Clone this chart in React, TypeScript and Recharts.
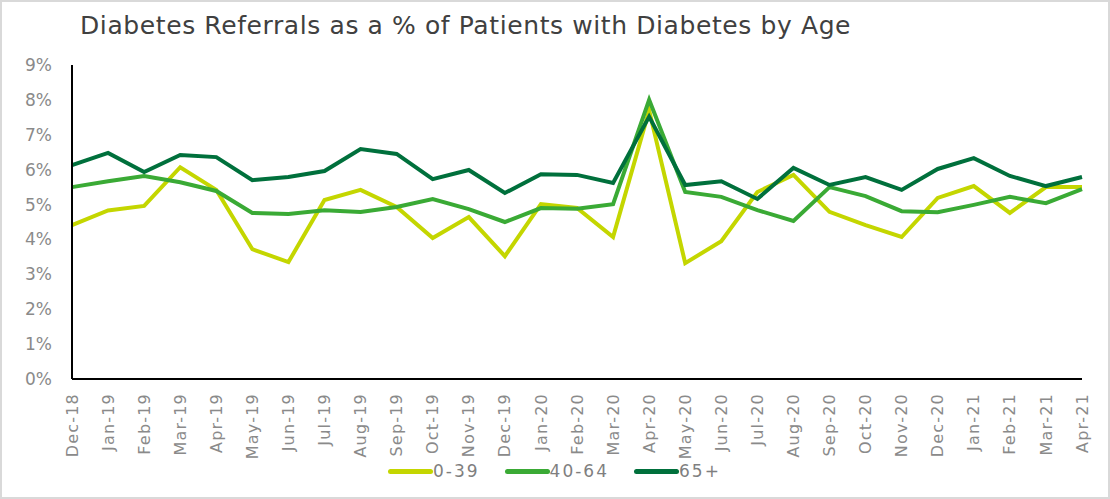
import { LineChart, Line, XAxis, YAxis, Legend } from 'recharts';

const months = [
  'Dec-18', 'Jan-19', 'Feb-19', 'Mar-19', 'Apr-19', 'May-19', 'Jun-19', 'Jul-19', 'Aug-19', 'Sep-19',
  'Oct-19', 'Nov-19', 'Dec-19', 'Jan-20', 'Feb-20', 'Mar-20', 'Apr-20', 'May-20', 'Jun-20', 'Jul-20',
  'Aug-20', 'Sep-20', 'Oct-20', 'Nov-20', 'Dec-20', 'Jan-21', 'Feb-21', 'Mar-21', 'Apr-21',
];

// % of patients with diabetes referred, per age band
const age0to39 = [
  4.41, 4.83, 4.96, 6.07, 5.42, 3.72, 3.35, 5.13, 5.42, 4.93,
  4.04, 4.64, 3.52, 5.01, 4.9, 4.07, 7.7, 3.32, 3.95, 5.36,
  5.85, 4.79, 4.41, 4.07, 5.19, 5.53, 4.76, 5.5, 5.5,
];
const age40to64 = [
  5.5, 5.67, 5.82, 5.64, 5.39, 4.76, 4.73, 4.84, 4.79, 4.93,
  5.16, 4.87, 4.5, 4.9, 4.88, 5.01, 8.0, 5.36, 5.22, 4.84,
  4.53, 5.5, 5.24, 4.81, 4.78, 4.99, 5.22, 5.04, 5.44,
];
const age65plus = [
  6.13, 6.48, 5.93, 6.42, 6.36, 5.7, 5.79, 5.96, 6.59, 6.45,
  5.73, 5.99, 5.33, 5.87, 5.85, 5.62, 7.52, 5.56, 5.67, 5.16,
  6.05, 5.56, 5.79, 5.42, 6.02, 6.33, 5.82, 5.53, 5.79,
];
const yTicks = [0, 1, 2, 3, 4, 5, 6, 7, 8, 9];

const data = months.map((month, i) => ({
  month,
  a: age0to39[i],
  b: age40to64[i],
  c: age65plus[i],
}));

const series = [
  { key: 'a', name: '0-39', color: '#c4d600' },
  { key: 'b', name: '40-64', color: '#3aaa35' },
  { key: 'c', name: '65+', color: '#00703c' },
];

const FONT = '"DejaVu Sans", sans-serif';

const MonthTick = (props: any) => {
  const { x, y, payload } = props;
  return (
    <text
      x={x}
      y={y}
      transform={`rotate(-90 ${x} ${y})`}
      textAnchor="end"
      dy="0.35em"
      fill="#8a8a8a"
      fontSize={16}
      letterSpacing={1.2}
      fontFamily={FONT}
    >
      {payload.value}
    </text>
  );
};

const LegendRow = () => (
  <div
    style={{
      display: 'flex',
      alignItems: 'center',
      fontFamily: FONT,
      fontSize: 17,
      letterSpacing: 2,
      color: '#7f7f7f',
    }}
  >
    {series.map((s) => (
      <div key={s.key} style={{ display: 'flex', alignItems: 'center', marginRight: 25 }}>
        <span style={{ display: 'inline-block', width: 45, height: 5, borderRadius: 3, background: s.color }} />
        <span>{s.name}</span>
      </div>
    ))}
  </div>
);

export default function App() {
  return (
    <div
      style={{
        position: 'absolute',
        top: 0,
        left: 0,
        width: 1110,
        height: 499,
        boxSizing: 'border-box',
        border: '2px solid #d9d9d9',
        background: '#fff',
      }}
    >
      <div
        style={{
          position: 'absolute',
          left: 78,
          top: 9,
          fontFamily: FONT,
          fontSize: 25,
          letterSpacing: 0.6,
          color: '#404040',
          whiteSpace: 'nowrap',
        }}
      >
        Diabetes Referrals as a % of Patients with Diabetes by Age
      </div>
      <div style={{ position: 'absolute', left: -2, top: -2 }}>
        <LineChart width={1110} height={499} data={data} margin={{ top: 65, right: 28, left: 0, bottom: 0 }}>
          <XAxis
            dataKey="month"
            interval={0}
            height={80}
            tick={<MonthTick />}
            tickLine={false}
            tickSize={0}
            tickMargin={14}
            axisLine={{ stroke: '#000', strokeWidth: 2 }}
          />
          <YAxis
            width={72}
            domain={[0, 9]}
            ticks={yTicks}
            tickFormatter={(v: number) => `${v}%`}
            tickLine={false}
            tickSize={0}
            tickMargin={20}
            tick={{ fill: '#8a8a8a', fontSize: 17, fontFamily: FONT }}
            axisLine={{ stroke: '#000', strokeWidth: 2 }}
          />
          <Legend
            verticalAlign="bottom"
            height={40}
            content={<LegendRow />}
            wrapperStyle={{ left: 388, top: 461, bottom: 'auto', width: 'auto' }}
          />
          {series.map((s) => (
            <Line
              key={s.key}
              type="linear"
              dataKey={s.key}
              name={s.name}
              stroke={s.color}
              strokeWidth={4}
              dot={false}
              isAnimationActive={false}
            />
          ))}
        </LineChart>
      </div>
    </div>
  );
}
